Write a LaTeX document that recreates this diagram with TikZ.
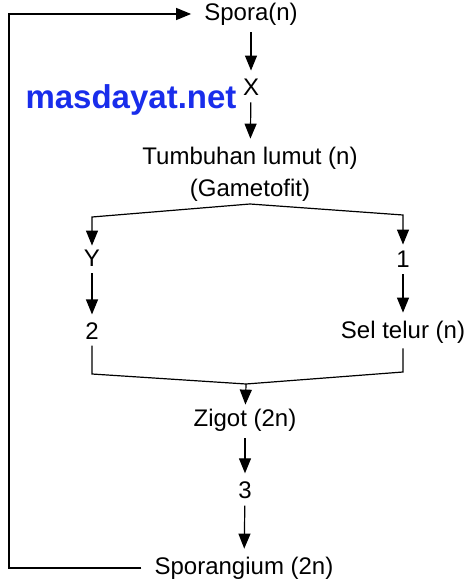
\documentclass[tikz,border=0pt]{standalone}
\usepackage{fontspec}
\setmainfont{Liberation Sans}
\usetikzlibrary{arrows.meta}
\definecolor{markblue}{RGB}{25,45,235}

\begin{document}
\begin{tikzpicture}[x=1pt,y=-1pt,every node/.style={inner sep=0pt,font=\fontsize{24}{32}\selectfont},
  arr/.style={-{Triangle[length=15pt,width=12pt]},line width=1.2pt,shorten <=7pt,shorten >=8pt},
  line/.style={line width=1.2pt}]

\useasboundingbox (0,0) rectangle (474,588);

\node(spora) at (251,14) {Spora(n)};
\node(x) at (251,87) {X};
\node[align=center](lumut) at (250,174) {Tumbuhan lumut (n)\\(Gametofit)};
\node(y) at (92,258) {Y};
\node(one) at (403,259) {1};
\node(two) at (92,331) {2};
\node(telur) at (403,332) {Sel telur (n)};
\node(zigot) at (245,420) {Zigot (2n)};
\node(three) at (245,490) {3};
\node(sporang) at (244,568) {Sporangium (2n)};
\node[font=\fontsize{33}{40}\selectfont\bfseries,text=markblue](mark) at (131,100) {masdayat.net};

\coordinate(split) at (250,204);
\coordinate(lsplit) at (92,217);
\coordinate(rsplit) at (403,215);
\coordinate(lmerge) at (92,374);
\coordinate(rmerge) at (403,372);
\coordinate(merge) at (246,384);
\coordinate(loopx) at (9,300);

\draw[arr](spora)--(x);
\draw[arr](x)--(lumut);
\draw[arr,shorten <=0pt,shorten >=4pt](split)--(lsplit)--(y);
\draw[arr,shorten <=0pt,shorten >=6pt](split)--(rsplit)--(one);
\draw[arr](y)--(two);
\draw[arr](one)--(telur);
\draw[line,shorten <=6pt](two)--(lmerge)--(merge);
\draw[line,shorten <=5pt](telur)--(rmerge)--(merge);
\draw[arr,shorten <=0pt,shorten >=4pt](merge)--(zigot);
\draw[arr](zigot)--(three);
\draw[arr](three)--(sporang);
\draw[arr,shorten <=13pt,shorten >=13pt](sporang.west)-|(loopx)|-(spora.west);
\end{tikzpicture}
\end{document}
